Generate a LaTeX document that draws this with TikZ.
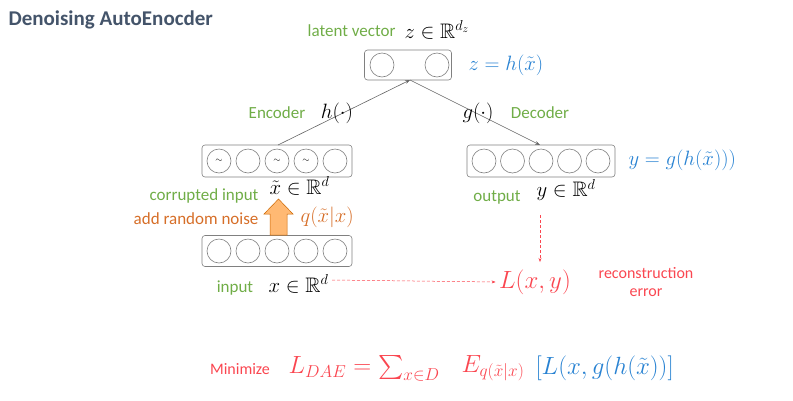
\documentclass[tikz,border=0pt]{standalone}
\usepackage{fontspec}
\usepackage{amssymb}
\setmainfont{Carlito}
\usetikzlibrary{arrows.meta}
\definecolor{grn}{RGB}{112,173,71}
\definecolor{blu}{RGB}{40,130,210}
\definecolor{org}{RGB}{214,110,40}
\definecolor{rd}{RGB}{250,70,80}
\definecolor{ttl}{RGB}{68,84,106}
\begin{document}
\begin{tikzpicture}[x=1pt,y=-1pt,
  box/.style={draw=gray,rounded corners=3pt,line width=0.6pt},
  cir/.style={draw=gray,circle,minimum size=24pt,inner sep=0pt,line width=0.6pt,font=\small},
  g/.style={text=grn,font=\fontsize{17}{19}\selectfont},
  m/.style={font=\fontsize{21}{23}\selectfont},
  con/.style={draw=gray!80!black,line width=0.6pt,-{Stealth[length=5pt]}},
  dsh/.style={draw=rd,densely dashed,line width=0.5pt,-{Stealth[length=4pt]}}]
\useasboundingbox (0,0) rectangle (793,400);
\node[anchor=west,text=ttl,font=\bfseries\fontsize{21}{23}\selectfont] (t) at (5,20) {Denoising AutoEnocder};
% z box
\node[box,minimum width=87pt,minimum height=30pt] (zb) at (408,65) {};
\node[cir] (z1) at (382,65) {}; \node[cir] (z2) at (437,65) {};
\node[g,anchor=east] (lv) at (399,31) {latent vector};
\node[m,anchor=west] (zr) at (401,30) {$z\in\mathbb{R}^{d_z}$};
\node[m,text=blu,anchor=west] (zh) at (465,65) {$z=h(\tilde{x})$};
% xt box
\node[box,minimum width=150pt,minimum height=32pt] (xtb) at (277,161) {};
\foreach \i/\s in {1/$\sim$,2/,3/$\sim$,4/$\sim$,5/}
  \node[cir] (xc\i) at (219+29*\i-29,161) {\s};
% output box
\node[box,minimum width=148pt,minimum height=32pt] (yb) at (541,161) {};
\foreach \i in {1,...,5}
  \node[cir] (yc\i) at (484+28.5*\i-28.5,161) {};
% input box
\node[box,minimum width=150pt,minimum height=31pt] (xb) at (277,251) {};
\foreach \i in {1,...,5}
  \node[cir] (xi\i) at (219+29*\i-29,251) {};
% connectors
\coordinate (zbot) at (410,80);
\draw[con] (278,145) -- (zbot);
\draw[con] (zbot) -- (540,145);
\node[g] (enc) at (277,113) {Encoder};
\node[m] (hh) at (337,113) {$h(\cdot)$};
\node[m] (gg) at (478,113) {$g(\cdot)$};
\node[g] (dec) at (540,113) {Decoder};
\node[m,text=blu,anchor=west] (yg) at (625,160) {$y=g(h(\tilde{x})))$};
\node[g,anchor=east] (ci) at (262,196) {corrupted input};
\node[m,anchor=west] (xtr) at (266,186) {$\tilde{x}\in\mathbb{R}^d$};
\node[g,text=org,anchor=east] (arn) at (262,219) {add random noise};
\draw[fill=orange!55,draw=orange!80!black,line width=0.5pt] (270,235) -- (270,214) -- (264,214) -- (278.5,199) -- (293,214) -- (287,214) -- (287,235) -- cycle;
\node[m,text=org,anchor=west] (q) at (297,217) {$q(\tilde{x}|x)$};
\node[g] (inp) at (235,288) {input};
\node[m,anchor=west] (xr) at (265,284) {$x\in\mathbb{R}^d$};
\node[g] (out) at (497,197) {output};
\node[m,anchor=west] (yr) at (533,190) {$y\in\mathbb{R}^d$};
\node[text=rd,font=\fontsize{34}{36}\selectfont] (L) at (535,282) {$L(x,y)$};
\node[text=rd,font=\fontsize{16}{18}\selectfont,align=center] (re) at (646,282) {reconstruction\\error};
\draw[dsh] (332,280) -- (L.west);
\draw[dsh] (540,215) -- (540,262);
\node[text=rd,font=\fontsize{16}{18}\selectfont] (mn) at (240,369) {Minimize};
\node[text=rd,font=\fontsize{24}{26}\selectfont,anchor=west] (ld) at (285,368) {$L_{DAE}=\sum\nolimits_{x\in D}$};
\node[text=rd,font=\fontsize{24}{26}\selectfont,anchor=west] (ee) at (458,368) {$E_{q(\tilde{x}|x)}$};
\node[text=blu,font=\fontsize{24}{26}\selectfont,anchor=west] (br) at (532,368) {$[L(x,g(h(\tilde{x}))]$};
\end{tikzpicture}
\end{document}
